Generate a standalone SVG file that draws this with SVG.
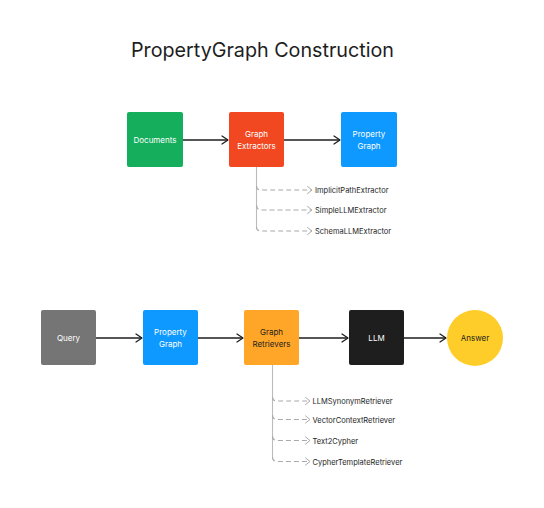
<svg xmlns="http://www.w3.org/2000/svg" width="544" height="508" viewBox="0 0 544 508">
<defs>
<marker id="ah" viewBox="0 0 10 10" refX="9" refY="5" markerWidth="10" markerHeight="10" markerUnits="userSpaceOnUse" orient="auto">
<path d="M3 1 L9 5 L3 9" fill="none" stroke="#1e1e1e" stroke-width="1.3" stroke-linecap="round" stroke-linejoin="round"/>
</marker>
<marker id="ahg" viewBox="0 0 10 10" refX="9" refY="5" markerWidth="9" markerHeight="9" markerUnits="userSpaceOnUse" orient="auto">
<path d="M4 1 L9 5 L4 9" fill="none" stroke="#aaaaaa" stroke-width="1.1" stroke-linecap="round" stroke-linejoin="round"/>
</marker>
</defs>
<style>
text{font-family:Inter,"Liberation Sans",sans-serif}
.t{font-size:20px;fill:#1e1e1e}
.n{font-size:8px;fill:#fff;text-anchor:middle}
.d{fill:#1e1e1e}
.l{font-size:7.5px;fill:#1e1e1e}
.c{fill:none;stroke:#1e1e1e;stroke-width:1.3;marker-end:url(#ah)}
.v{fill:none;stroke:#bbbbbb;stroke-width:1.1}
.b{fill:none;stroke:#aaaaaa;stroke-width:1.1;stroke-dasharray:5 3;marker-end:url(#ahg)}
</style>
<rect width="544" height="508" fill="#fff"/>
<text class="t" x="131" y="57" textLength="263" lengthAdjust="spacingAndGlyphs">PropertyGraph Construction</text>

<g id="connectors">
<path class="c" d="M183 140 H228"/>
<path class="c" d="M284 140 H340"/>
<path class="c" d="M96 338 H142"/>
<path class="c" d="M198 338 H243"/>
<path class="c" d="M299 338 H348"/>
<path class="c" d="M404 338 H446"/>
<path class="v" d="M256.5 167 V227"/>
<path class="b" d="M256.5 186 Q256.5 190 260.5 190 H312"/>
<path class="b" d="M256.5 205 Q256.5 210 261 210 H312"/>
<path class="b" d="M256.5 227 Q256.5 231 260.5 231 H312"/>
<path class="v" d="M272.5 365 V457"/>
<path class="b" d="M272.5 397 Q272.5 401 276.5 401 H310"/>
<path class="b" d="M272.5 415 Q272.5 419.5 277 419.5 H310"/>
<path class="b" d="M272.5 436 Q272.5 440.5 277 440.5 H310"/>
<path class="b" d="M272.5 457 Q272.5 461.5 277 461.5 H310"/>
</g>

<g id="documents">
<rect x="127" y="112" width="56" height="55" rx="2" fill="#14ae5c"/>
<text class="n" x="155" y="142.5">Documents</text>
</g>
<g id="graph-extractors">
<rect x="229" y="112" width="55" height="55" rx="2" fill="#f24822"/>
<text class="n" x="256.5" y="137">Graph</text>
<text class="n" x="256.5" y="148.5">Extractors</text>
</g>
<g id="property-graph-1">
<rect x="341" y="112" width="56" height="55" rx="2" fill="#0d99ff"/>
<text class="n" x="369" y="137">Property</text>
<text class="n" x="369" y="148.5">Graph</text>
</g>
<g id="extractor-labels">
<text class="l" x="315" y="193">ImplicitPathExtractor</text>
<text class="l" x="315" y="213">SimpleLLMExtractor</text>
<text class="l" x="315" y="234">SchemaLLMExtractor</text>
</g>

<g id="query">
<rect x="41" y="310" width="55" height="55" rx="2" fill="#757575"/>
<text class="n" x="68.5" y="341">Query</text>
</g>
<g id="property-graph-2">
<rect x="143" y="310" width="55" height="55" rx="2" fill="#0d99ff"/>
<text class="n" x="170.5" y="335">Property</text>
<text class="n" x="170.5" y="346.5">Graph</text>
</g>
<g id="graph-retrievers">
<rect x="244" y="310" width="55" height="55" rx="2" fill="#ffa629"/>
<text class="n d" x="271.5" y="335">Graph</text>
<text class="n d" x="271.5" y="346.5">Retrievers</text>
</g>
<g id="llm">
<rect x="349" y="310" width="55" height="55" rx="2" fill="#1e1e1e"/>
<text class="n" x="376.5" y="341">LLM</text>
</g>
<g id="answer">
<circle cx="475" cy="338" r="28" fill="#ffcd29"/>
<text class="n d" x="475" y="341">Answer</text>
</g>
<g id="retriever-labels">
<text class="l" x="312.5" y="404">LLMSynonymRetriever</text>
<text class="l" x="312.5" y="422.5">VectorContextRetriever</text>
<text class="l" x="312.5" y="443.5">Text2Cypher</text>
<text class="l" x="312.5" y="464.5">CypherTemplateRetriever</text>
</g>
</svg>
